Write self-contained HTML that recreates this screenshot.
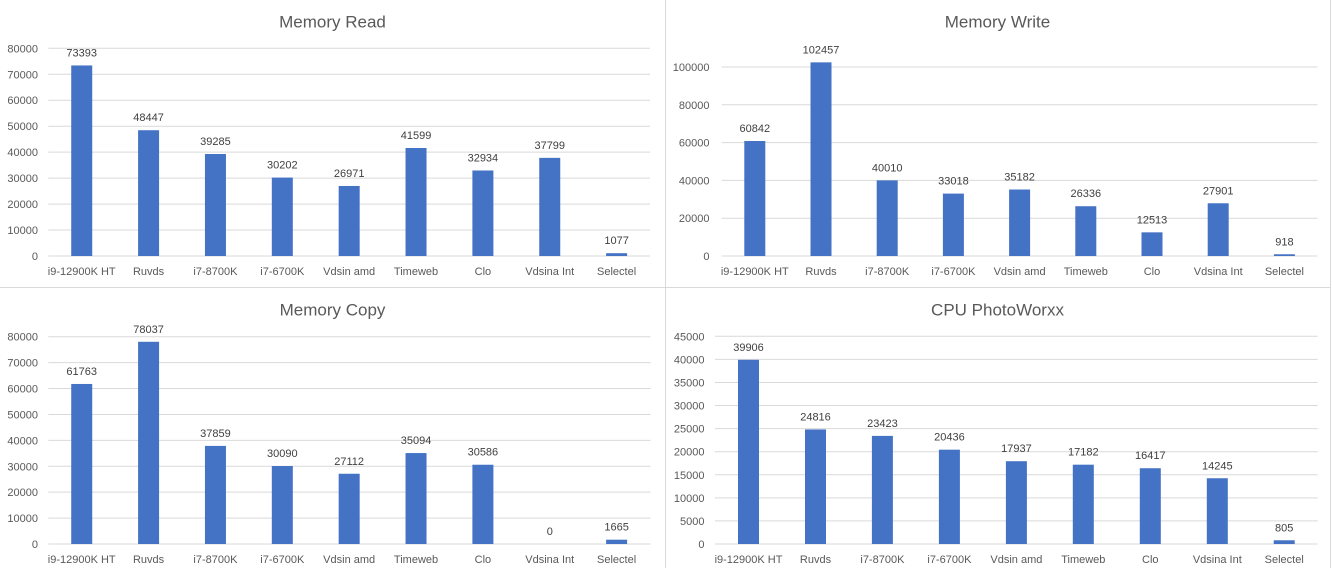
<!DOCTYPE html>
<html>
<head>
<meta charset="utf-8">
<style>
html,body{margin:0;padding:0;background:#fff;}
svg{display:block;}
text{font-family:"Liberation Sans",sans-serif;}
.t{font-size:17px;fill:#595959;text-anchor:middle;}
.y{font-size:11px;fill:#595959;text-anchor:end;}
.x{font-size:11px;fill:#595959;text-anchor:middle;}
.d{font-size:11px;fill:#404040;text-anchor:middle;}
.g{stroke:#d9d9d9;stroke-width:1;}
.b{fill:#4472c4;}
</style>
</head>
<body>
<svg width="1333" height="568" viewBox="0 0 1333 568" xmlns="http://www.w3.org/2000/svg">
<rect width="1333" height="568" fill="#fff"/>
<!-- dividers -->
<line x1="665.5" y1="0" x2="665.5" y2="568" stroke="#d9d9d9"/>
<line x1="0" y1="287.5" x2="1331" y2="287.5" stroke="#d9d9d9"/>
<line x1="1330.5" y1="0" x2="1330.5" y2="568" stroke="#d9d9d9"/>

<!-- ===== Chart 1: Memory Read ===== -->
<text class="t" x="332.5" y="27.5">Memory Read</text>
<g>
<line class="g" x1="48.3" x2="650" y1="48.3" y2="48.3"/>
<line class="g" x1="48.3" x2="650" y1="74.26" y2="74.26"/>
<line class="g" x1="48.3" x2="650" y1="100.23" y2="100.23"/>
<line class="g" x1="48.3" x2="650" y1="126.19" y2="126.19"/>
<line class="g" x1="48.3" x2="650" y1="152.15" y2="152.15"/>
<line class="g" x1="48.3" x2="650" y1="178.11" y2="178.11"/>
<line class="g" x1="48.3" x2="650" y1="204.08" y2="204.08"/>
<line class="g" x1="48.3" x2="650" y1="230.04" y2="230.04"/>
<line class="g" x1="48.3" x2="650" y1="256" y2="256"/>
<text class="y" x="38" y="52.3">80000</text>
<text class="y" x="38" y="78.3">70000</text>
<text class="y" x="38" y="104.2">60000</text>
<text class="y" x="38" y="130.2">50000</text>
<text class="y" x="38" y="156.2">40000</text>
<text class="y" x="38" y="182.1">30000</text>
<text class="y" x="38" y="208.1">20000</text>
<text class="y" x="38" y="234">10000</text>
<text class="y" x="38" y="260">0</text>
<rect class="b" x="71.23" y="65.45" width="21" height="190.55"/>
<rect class="b" x="138.09" y="130.22" width="21" height="125.78"/>
<rect class="b" x="204.95" y="154" width="21" height="102"/>
<rect class="b" x="271.81" y="177.59" width="21" height="78.41"/>
<rect class="b" x="338.67" y="185.97" width="21" height="70.03"/>
<rect class="b" x="405.53" y="148" width="21" height="108"/>
<rect class="b" x="472.39" y="170.49" width="21" height="85.51"/>
<rect class="b" x="539.25" y="157.86" width="21" height="98.14"/>
<rect class="b" x="606.11" y="253.2" width="21" height="2.8"/>
<text class="d" x="81.73" y="56.45">73393</text>
<text class="d" x="148.59" y="121.22">48447</text>
<text class="d" x="215.45" y="145">39285</text>
<text class="d" x="282.31" y="168.59">30202</text>
<text class="d" x="349.17" y="176.97">26971</text>
<text class="d" x="416.03" y="139">41599</text>
<text class="d" x="482.89" y="161.49">32934</text>
<text class="d" x="549.75" y="148.86">37799</text>
<text class="d" x="616.61" y="244.2">1077</text>
<text class="x" x="81.73" y="275">i9-12900K HT</text>
<text class="x" x="148.59" y="275">Ruvds</text>
<text class="x" x="215.45" y="275">i7-8700K</text>
<text class="x" x="282.31" y="275">i7-6700K</text>
<text class="x" x="349.17" y="275">Vdsin amd</text>
<text class="x" x="416.03" y="275">Timeweb</text>
<text class="x" x="482.89" y="275">Clo</text>
<text class="x" x="549.75" y="275">Vdsina Int</text>
<text class="x" x="616.61" y="275">Selectel</text>
</g>

<!-- ===== Chart 2: Memory Write ===== -->
<text class="t" x="997.5" y="27.5">Memory Write</text>
<g>
<line class="g" x1="721.7" x2="1317.5" y1="67" y2="67"/>
<line class="g" x1="721.7" x2="1317.5" y1="104.8" y2="104.8"/>
<line class="g" x1="721.7" x2="1317.5" y1="142.6" y2="142.6"/>
<line class="g" x1="721.7" x2="1317.5" y1="180.4" y2="180.4"/>
<line class="g" x1="721.7" x2="1317.5" y1="218.2" y2="218.2"/>
<line class="g" x1="721.7" x2="1317.5" y1="256" y2="256"/>
<text class="y" x="709.5" y="71">100000</text>
<text class="y" x="709.5" y="108.8">80000</text>
<text class="y" x="709.5" y="146.6">60000</text>
<text class="y" x="709.5" y="184.4">40000</text>
<text class="y" x="709.5" y="222.2">20000</text>
<text class="y" x="709.5" y="260">0</text>
<rect class="b" x="744.3" y="141" width="21" height="115"/>
<rect class="b" x="810.5" y="62.36" width="21" height="193.64"/>
<rect class="b" x="876.7" y="180.38" width="21" height="75.62"/>
<rect class="b" x="942.9" y="193.6" width="21" height="62.4"/>
<rect class="b" x="1009.1" y="189.51" width="21" height="66.49"/>
<rect class="b" x="1075.3" y="206.22" width="21" height="49.78"/>
<rect class="b" x="1141.5" y="232.35" width="21" height="23.65"/>
<rect class="b" x="1207.7" y="203.27" width="21" height="52.73"/>
<rect class="b" x="1273.9" y="254.26" width="21" height="1.74"/>
<text class="d" x="754.8" y="132">60842</text>
<text class="d" x="821" y="53.36">102457</text>
<text class="d" x="887.2" y="171.38">40010</text>
<text class="d" x="953.4" y="184.6">33018</text>
<text class="d" x="1019.6" y="180.51">35182</text>
<text class="d" x="1085.8" y="197.22">26336</text>
<text class="d" x="1152" y="223.35">12513</text>
<text class="d" x="1218.2" y="194.27">27901</text>
<text class="d" x="1284.4" y="245.26">918</text>
<text class="x" x="754.8" y="275">i9-12900K HT</text>
<text class="x" x="821" y="275">Ruvds</text>
<text class="x" x="887.2" y="275">i7-8700K</text>
<text class="x" x="953.4" y="275">i7-6700K</text>
<text class="x" x="1019.6" y="275">Vdsin amd</text>
<text class="x" x="1085.8" y="275">Timeweb</text>
<text class="x" x="1152" y="275">Clo</text>
<text class="x" x="1218.2" y="275">Vdsina Int</text>
<text class="x" x="1284.4" y="275">Selectel</text>
</g>

<!-- ===== Chart 3: Memory Copy ===== -->
<text class="t" x="332.5" y="315.7">Memory Copy</text>
<g>
<line class="g" x1="48.3" x2="650.5" y1="336.7" y2="336.7"/>
<line class="g" x1="48.3" x2="650.5" y1="362.61" y2="362.61"/>
<line class="g" x1="48.3" x2="650.5" y1="388.53" y2="388.53"/>
<line class="g" x1="48.3" x2="650.5" y1="414.44" y2="414.44"/>
<line class="g" x1="48.3" x2="650.5" y1="440.35" y2="440.35"/>
<line class="g" x1="48.3" x2="650.5" y1="466.26" y2="466.26"/>
<line class="g" x1="48.3" x2="650.5" y1="492.18" y2="492.18"/>
<line class="g" x1="48.3" x2="650.5" y1="518.09" y2="518.09"/>
<line class="g" x1="48.3" x2="650.5" y1="544" y2="544"/>
<text class="y" x="38" y="340.7">80000</text>
<text class="y" x="38" y="366.6">70000</text>
<text class="y" x="38" y="392.5">60000</text>
<text class="y" x="38" y="418.4">50000</text>
<text class="y" x="38" y="444.4">40000</text>
<text class="y" x="38" y="470.3">30000</text>
<text class="y" x="38" y="496.2">20000</text>
<text class="y" x="38" y="522.1">10000</text>
<text class="y" x="38" y="548">0</text>
<rect class="b" x="71.23" y="383.96" width="21" height="160.04"/>
<rect class="b" x="138.09" y="341.79" width="21" height="202.21"/>
<rect class="b" x="204.95" y="445.9" width="21" height="98.1"/>
<rect class="b" x="271.81" y="466.03" width="21" height="77.97"/>
<rect class="b" x="338.67" y="473.75" width="21" height="70.25"/>
<rect class="b" x="405.53" y="453.06" width="21" height="90.94"/>
<rect class="b" x="472.39" y="464.74" width="21" height="79.26"/>
<rect class="b" x="606.11" y="539.69" width="21" height="4.31"/>
<text class="d" x="81.73" y="374.96">61763</text>
<text class="d" x="148.59" y="332.79">78037</text>
<text class="d" x="215.45" y="436.9">37859</text>
<text class="d" x="282.31" y="457.03">30090</text>
<text class="d" x="349.17" y="464.75">27112</text>
<text class="d" x="416.03" y="444.06">35094</text>
<text class="d" x="482.89" y="455.74">30586</text>
<text class="d" x="549.75" y="535">0</text>
<text class="d" x="616.61" y="530.69">1665</text>
<text class="x" x="81.73" y="563">i9-12900K HT</text>
<text class="x" x="148.59" y="563">Ruvds</text>
<text class="x" x="215.45" y="563">i7-8700K</text>
<text class="x" x="282.31" y="563">i7-6700K</text>
<text class="x" x="349.17" y="563">Vdsin amd</text>
<text class="x" x="416.03" y="563">Timeweb</text>
<text class="x" x="482.89" y="563">Clo</text>
<text class="x" x="549.75" y="563">Vdsina Int</text>
<text class="x" x="616.61" y="563">Selectel</text>
</g>

<!-- ===== Chart 4: CPU PhotoWorxx ===== -->
<text class="t" x="997.5" y="315.7">CPU PhotoWorxx</text>
<g>
<line class="g" x1="715" x2="1317.7" y1="336.3" y2="336.3"/>
<line class="g" x1="715" x2="1317.7" y1="359.38" y2="359.38"/>
<line class="g" x1="715" x2="1317.7" y1="382.45" y2="382.45"/>
<line class="g" x1="715" x2="1317.7" y1="405.53" y2="405.53"/>
<line class="g" x1="715" x2="1317.7" y1="428.61" y2="428.61"/>
<line class="g" x1="715" x2="1317.7" y1="451.69" y2="451.69"/>
<line class="g" x1="715" x2="1317.7" y1="474.77" y2="474.77"/>
<line class="g" x1="715" x2="1317.7" y1="497.84" y2="497.84"/>
<line class="g" x1="715" x2="1317.7" y1="520.92" y2="520.92"/>
<line class="g" x1="715" x2="1317.7" y1="544" y2="544"/>
<text class="y" x="704.5" y="340.3">45000</text>
<text class="y" x="704.5" y="363.4">40000</text>
<text class="y" x="704.5" y="386.5">35000</text>
<text class="y" x="704.5" y="409.5">30000</text>
<text class="y" x="704.5" y="432.6">25000</text>
<text class="y" x="704.5" y="455.7">20000</text>
<text class="y" x="704.5" y="478.8">15000</text>
<text class="y" x="704.5" y="501.8">10000</text>
<text class="y" x="704.5" y="524.9">5000</text>
<text class="y" x="704.5" y="548">0</text>
<rect class="b" x="738" y="359.81" width="21" height="184.19"/>
<rect class="b" x="805" y="429.46" width="21" height="114.54"/>
<rect class="b" x="871.9" y="435.89" width="21" height="108.11"/>
<rect class="b" x="938.9" y="449.68" width="21" height="94.32"/>
<rect class="b" x="1005.9" y="461.21" width="21" height="82.79"/>
<rect class="b" x="1072.8" y="464.69" width="21" height="79.31"/>
<rect class="b" x="1139.8" y="468.23" width="21" height="75.77"/>
<rect class="b" x="1206.8" y="478.25" width="21" height="65.75"/>
<rect class="b" x="1273.7" y="540.28" width="21" height="3.72"/>
<text class="d" x="748.5" y="350.81">39906</text>
<text class="d" x="815.5" y="420.46">24816</text>
<text class="d" x="882.4" y="426.89">23423</text>
<text class="d" x="949.4" y="440.68">20436</text>
<text class="d" x="1016.4" y="452.21">17937</text>
<text class="d" x="1083.3" y="455.69">17182</text>
<text class="d" x="1150.3" y="459.23">16417</text>
<text class="d" x="1217.3" y="469.25">14245</text>
<text class="d" x="1284.2" y="531.28">805</text>
<text class="x" x="748.5" y="563">i9-12900K HT</text>
<text class="x" x="815.5" y="563">Ruvds</text>
<text class="x" x="882.4" y="563">i7-8700K</text>
<text class="x" x="949.4" y="563">i7-6700K</text>
<text class="x" x="1016.4" y="563">Vdsin amd</text>
<text class="x" x="1083.3" y="563">Timeweb</text>
<text class="x" x="1150.3" y="563">Clo</text>
<text class="x" x="1217.3" y="563">Vdsina Int</text>
<text class="x" x="1284.2" y="563">Selectel</text>
</g>
</svg>
</body>
</html>
